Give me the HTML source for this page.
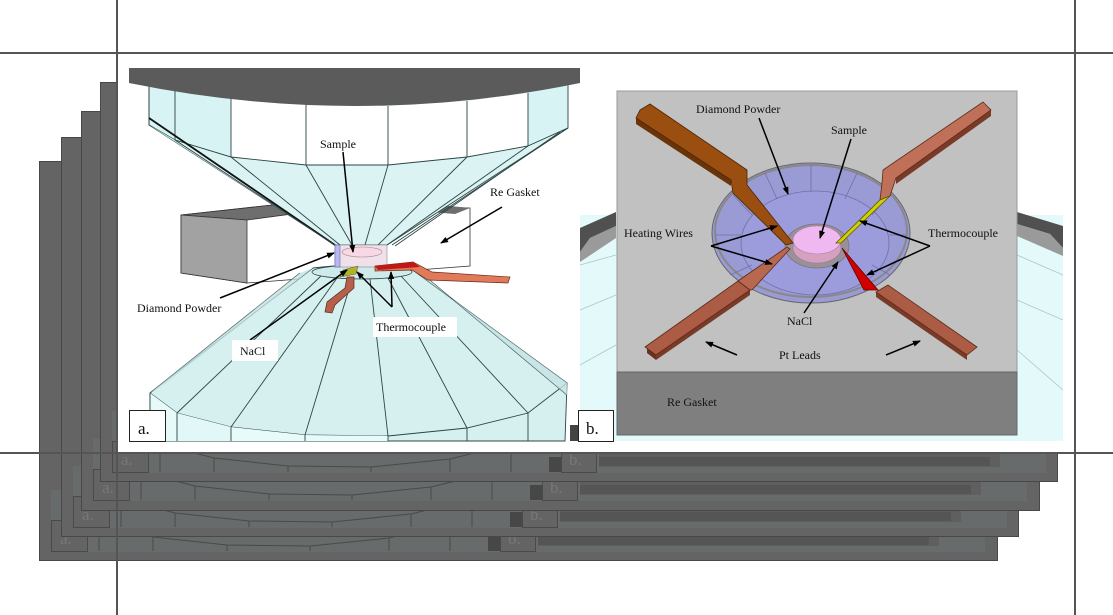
<!DOCTYPE html>
<html><head><meta charset="utf-8"><style>
html,body{margin:0;padding:0;background:#fff;}
svg{display:block;}
text{font-family:"Liberation Serif",serif;fill:#111;}
</style></head><body>
<svg width="1113" height="615" viewBox="0 0 1113 615" xmlns="http://www.w3.org/2000/svg">
<defs>
<g id="ghost">
  <rect x="129" y="380" width="451" height="62" fill="#686b6b"/>
  <path d="M150,393 L177,413 L231,427 L305,435 L388,436 L467,428 L528,413 L567,383" fill="none" stroke="#4a4a4a" stroke-width="1"/>
  <path d="M177,413V441M231,427V441M305,435V441M388,436V441M467,428V441M528,413V441" stroke="#4a4a4a" stroke-width="1"/>
  <rect x="580" y="380" width="483" height="62" fill="#686b6b"/>
  <rect x="616" y="372" width="401" height="64" fill="#5f5f5f"/>
  <rect x="616" y="426" width="391" height="9" fill="#555"/>
  <rect x="566" y="426" width="12" height="15" fill="#474747"/>
  <rect x="129.5" y="410.5" width="36" height="31" fill="#646464" stroke="#4a4a4a"/>
  <text x="138" y="434" font-size="17" style="fill:#777">a.</text>
  <rect x="578.5" y="410.5" width="35" height="31" fill="#646464" stroke="#4a4a4a"/>
  <text x="586" y="434" font-size="17" style="fill:#777">b.</text>
</g>
<clipPath id="c1"><rect x="39" y="161" width="959" height="400"/></clipPath>
<clipPath id="c2"><rect x="61" y="137" width="958" height="400"/></clipPath>
<clipPath id="c3"><rect x="81" y="111" width="959" height="400"/></clipPath>
<clipPath id="c4"><rect x="100" y="82" width="958" height="400"/></clipPath>
<marker id="ar" markerWidth="8" markerHeight="8" refX="7" refY="4" orient="auto" markerUnits="userSpaceOnUse"><path d="M0,1 L8,4 L0,7 Z" fill="#000"/></marker>
</defs>

<rect x="39.5" y="161.5" width="958" height="399" fill="#646464" stroke="#484848"/>
<g clip-path="url(#c1)"><g transform="translate(-78,110)"><use href="#ghost"/></g></g>
<rect x="61.5" y="137.5" width="957" height="399" fill="#646464" stroke="#484848"/>
<g clip-path="url(#c2)"><g transform="translate(-56,86)"><use href="#ghost"/></g></g>
<rect x="81.5" y="111.5" width="958" height="399" fill="#646464" stroke="#484848"/>
<g clip-path="url(#c3)"><g transform="translate(-36,59)"><use href="#ghost"/></g></g>
<rect x="100.5" y="82.5" width="957" height="399" fill="#646464" stroke="#484848"/>
<g clip-path="url(#c4)"><g transform="translate(-17,31)"><use href="#ghost"/></g></g>

<rect x="117" y="53" width="958" height="400" fill="#fff"/>

<!-- LEFT IMAGE -->
<polygon points="181,215 300,202 470,208 470,266 247,283 181,273" fill="#fff" stroke="#333" stroke-width="0.8"/>
<polygon points="181,215 300,202 360,205 247,220" fill="#6e6e6e" stroke="#333" stroke-width="0.8"/>
<polygon points="181,215 247,220 247,283 181,273" fill="#a2a2a2" stroke="#333" stroke-width="0.8"/>
<polygon points="440,205 470,208 455,214 430,212" fill="#6e6e6e"/>

<path d="M313,268 Q362,262 410,268 L567,383 L565,441 L150,441 L150,393 Z" fill="#d6f0f0" stroke="#2b4545" stroke-width="0.9"/>
<path d="M150,393 L177,413 L231,427 L305,435 L388,436 L467,428 L528,413 L567,383" fill="none" stroke="#2b4545" stroke-width="0.9"/>
<polygon points="150,393 177,413 177,441 150,441" fill="#e6fafa"/>
<polygon points="177,413 231,427 231,441 177,441" fill="#e2f8f8"/>
<polygon points="231,427 305,435 305,441 231,441" fill="#e8fbfb"/>
<polygon points="305,435 388,436 388,441 305,441" fill="#e8fbfb"/>
<path d="M177,413V441M231,427V441M305,435V441M388,436V441M467,428V441M528,413V441M150,393V441" stroke="#2b4545" stroke-width="0.9"/>
<g stroke="#2b4545" stroke-width="0.9" fill="none">
<path d="M300,273 L150,393"/><path d="M322,275 L177,413"/><path d="M337,278 L231,427"/>
<path d="M352,279 L305,435"/><path d="M370,279 L388,436"/><path d="M388,278 L467,428"/>
<path d="M400,275 L528,413"/><path d="M420,272 L567,395"/>
</g>
<polygon points="313,268 300,273 150,393 165,384" fill="#c6e2e2" opacity="0.8"/>
<polygon points="410,268 420,272 567,395 567,383" fill="#c6e2e2" opacity="0.8"/>
<ellipse cx="362" cy="272" rx="50" ry="7" fill="#cfeaea" stroke="#2b4545" stroke-width="0.8"/>

<path d="M149,83 L568,83 L568,128 L528,146 L467,157 L388,165 L306,165 L231,157 L175,140 L149,125 Z" fill="#d8f3f3" stroke="#2b4545" stroke-width="0.9"/>
<polygon points="231,94 306,104 388,106 467,101 528,93 528,146 467,157 388,165 306,165 231,157" fill="#fff"/>
<path d="M175,88V140M231,94V157M306,104V165M388,106V165M467,101V157M528,93V146M149,83V125" stroke="#2b4545" stroke-width="0.9"/>
<path d="M149,125 L175,140 L231,157 L306,165 L388,165 L467,157 L528,146 L568,128 L387,245 L335,245 Z" fill="#dcf3f3" stroke="#2b4545" stroke-width="0.9"/>
<polygon points="149,125 175,140 335,245" fill="#c8e4e4"/>
<g stroke="#2b4545" stroke-width="0.9">
<path d="M149,118 L335,245" stroke-width="1.8" stroke="#111"/>
<path d="M175,140 L335,245"/><path d="M231,157 L340,245"/><path d="M306,165 L352,245"/>
<path d="M388,165 L365,245"/><path d="M467,157 L378,245"/><path d="M528,146 L387,245"/>
<path d="M568,128 L392,245"/><path d="M560,132 L395,246"/>
</g>
<path d="M129,68 L580,68 L580,83 Q355,129 129,83 Z" fill="#5b5b5b"/>

<rect x="335" y="245" width="52" height="22" fill="#efe0ea" stroke="#888" stroke-width="0.6"/>
<rect x="335" y="245" width="5" height="22" fill="#b8b8ee" stroke="#66a" stroke-width="0.6"/>
<ellipse cx="362" cy="252" rx="20" ry="5" fill="#f7d8e4" stroke="#a88" stroke-width="0.6"/>
<polygon points="375,266 413,262 432,272 510,277 508,283 428,280 412,270 375,271" fill="#e07a5a" stroke="#6a2a1a" stroke-width="0.7"/>
<polygon points="375,266 413,262 420,267 378,270" fill="#c01818"/>
<polygon points="343,270 358,266 356,274 340,277" fill="#b3b320" stroke="#555" stroke-width="0.5"/>
<polygon points="347,277 354,277 354,288 335,305 332,313 325,312 327,302 345,288" fill="#b4604a" stroke="#5a2a1a" stroke-width="0.7"/>

<g stroke="#000" stroke-width="1.5" fill="none" marker-end="url(#ar)">
<line x1="343" y1="152" x2="353" y2="252"/>
<line x1="502" y1="207" x2="441" y2="243"/>
<line x1="220" y1="298" x2="334" y2="253"/>
<line x1="250" y1="340" x2="347" y2="270"/>
<line x1="392" y1="307" x2="357" y2="272"/>
<line x1="392" y1="307" x2="391" y2="272"/>
</g>
<text x="320" y="148" font-size="12">Sample</text>
<text x="490" y="196" font-size="12">Re Gasket</text>
<text x="137" y="312" font-size="12">Diamond Powder</text>
<rect x="232" y="340" width="46" height="21" fill="#fff"/>
<text x="240" y="355" font-size="12">NaCl</text>
<rect x="373" y="317" width="84" height="20" fill="#fff"/>
<text x="376" y="331" font-size="12">Thermocouple</text>
<rect x="129.5" y="410.5" width="36" height="31" fill="#fff" stroke="#222"/>
<text x="138" y="434" font-size="17">a.</text>

<!-- RIGHT IMAGE -->
<rect x="580" y="215" width="483" height="226" fill="#e4fafa"/>
<g stroke="#a8c8c8" stroke-width="0.8" fill="none">
<path d="M580,265 L616,255"/><path d="M580,310 L616,295"/><path d="M580,365 L616,345"/>
<path d="M1017,255 L1063,275"/><path d="M1017,300 L1063,320"/><path d="M1017,350 L1063,390"/>
</g>
<path d="M580,228 L616,212 L616,226 L590,238 L580,252 Z" fill="#505050"/>
<path d="M1017,212 L1063,226 L1063,248 L1050,234 L1017,224 Z" fill="#505050"/>
<path d="M1017,224 L1050,234 L1063,248 L1063,256 L1017,236 Z" fill="#9a9a9a"/>
<path d="M580,252 L590,238 L616,226 L616,238 L580,262 Z" fill="#9a9a9a"/>
<rect x="570" y="425" width="10" height="16" fill="#444"/>
<rect x="617" y="91" width="400" height="281" fill="#c1c1c1" stroke="#999"/>
<rect x="617" y="372" width="400" height="63" fill="#7f7f7f" stroke="#666"/>
<text x="667" y="406" font-size="12">Re Gasket</text>

<ellipse cx="811" cy="233" rx="99" ry="70" fill="#9a9ad4" stroke="#666" stroke-width="1"/>
<ellipse cx="811" cy="231" rx="96" ry="66" fill="none" stroke="#888" stroke-width="2"/>
<ellipse cx="815" cy="243" rx="74" ry="52" fill="#9c9cdc" stroke="#7070a8" stroke-width="0.8"/>
<g stroke="#7070a8" stroke-width="0.8">
<path d="M811,165V192M765,173L777,199M857,173L845,199M733,195L752,215M889,195L872,215M715,235H741M907,235H889M730,275L752,265M890,275L872,265"/>
</g>
<ellipse cx="817" cy="246" rx="32" ry="22" fill="#9a8f9a" stroke="#777" stroke-width="0.8"/>
<ellipse cx="817" cy="248" rx="24" ry="15" fill="#d8a0c0" stroke="#888" stroke-width="0.6"/>
<ellipse cx="817" cy="240" rx="24" ry="14" fill="#f0b8f0" stroke="#aa80aa" stroke-width="0.6"/>

<!-- leads with side faces -->
<polygon points="636,118 731,180 731,186 636,124" fill="#6a3408"/>
<polygon points="640,110 650,104 747,170 747,185 793,243 786,245 733,193 731,180 636,118" fill="#9a4e10" stroke="#4a2508" stroke-width="0.8"/>
<polygon points="991,110 896,178 896,184 991,116" fill="#7a3a28"/>
<polygon points="983,102 991,110 896,178 890,196 880,200 882,183 883,170" fill="#c07058" stroke="#5a2a1a" stroke-width="0.8"/>
<polygon points="880,200 890,196 841,243 836,243" fill="#d0d000" stroke="#5a5a00" stroke-width="0.8"/>
<polygon points="647,348 656,355 656,360 647,353" fill="#6a3020"/>
<polygon points="656,355 750,290 750,295 656,360" fill="#7a3a28"/>
<polygon points="645,347 738,281 750,290 656,355" fill="#ac5c44" stroke="#5a2a1a" stroke-width="0.8"/>
<polygon points="738,281 787,247 790,249 752,290 750,290" fill="#b8684e" stroke="#5a2a1a" stroke-width="0.8"/>
<polygon points="967,355 876,292 876,297 967,360" fill="#7a3a28"/>
<polygon points="977,347 888,285 876,292 967,355" fill="#ac5c44" stroke="#5a2a1a" stroke-width="0.8"/>
<polygon points="842,248 878,290 864,290" fill="#d00000" stroke="#600" stroke-width="0.8"/>

<g stroke="#000" stroke-width="1.5" fill="none" marker-end="url(#ar)">
<line x1="759" y1="118" x2="788" y2="194"/>
<line x1="851" y1="139" x2="820" y2="238"/>
<line x1="711" y1="246" x2="777" y2="226"/>
<line x1="711" y1="246" x2="772" y2="264"/>
<line x1="930" y1="246" x2="860" y2="221"/>
<line x1="930" y1="246" x2="867" y2="275"/>
<line x1="804" y1="313" x2="838" y2="262"/>
<line x1="737" y1="355" x2="706" y2="342"/>
<line x1="886" y1="355" x2="920" y2="341"/>
</g>
<text x="696" y="113" font-size="12">Diamond Powder</text>
<text x="831" y="134" font-size="12">Sample</text>
<text x="624" y="237" font-size="12">Heating Wires</text>
<text x="928" y="237" font-size="12">Thermocouple</text>
<text x="787" y="325" font-size="12">NaCl</text>
<text x="779" y="359" font-size="12">Pt Leads</text>
<rect x="578.5" y="410.5" width="35" height="31" fill="#fff" stroke="#222"/>
<text x="586" y="434" font-size="17">b.</text>

<g stroke="#555" stroke-width="2">
<line x1="0" y1="53" x2="1113" y2="53"/>
<line x1="0" y1="453" x2="1113" y2="453"/>
<line x1="117" y1="0" x2="117" y2="615"/>
<line x1="1075" y1="0" x2="1075" y2="615"/>
</g>
</svg>
</body></html>
